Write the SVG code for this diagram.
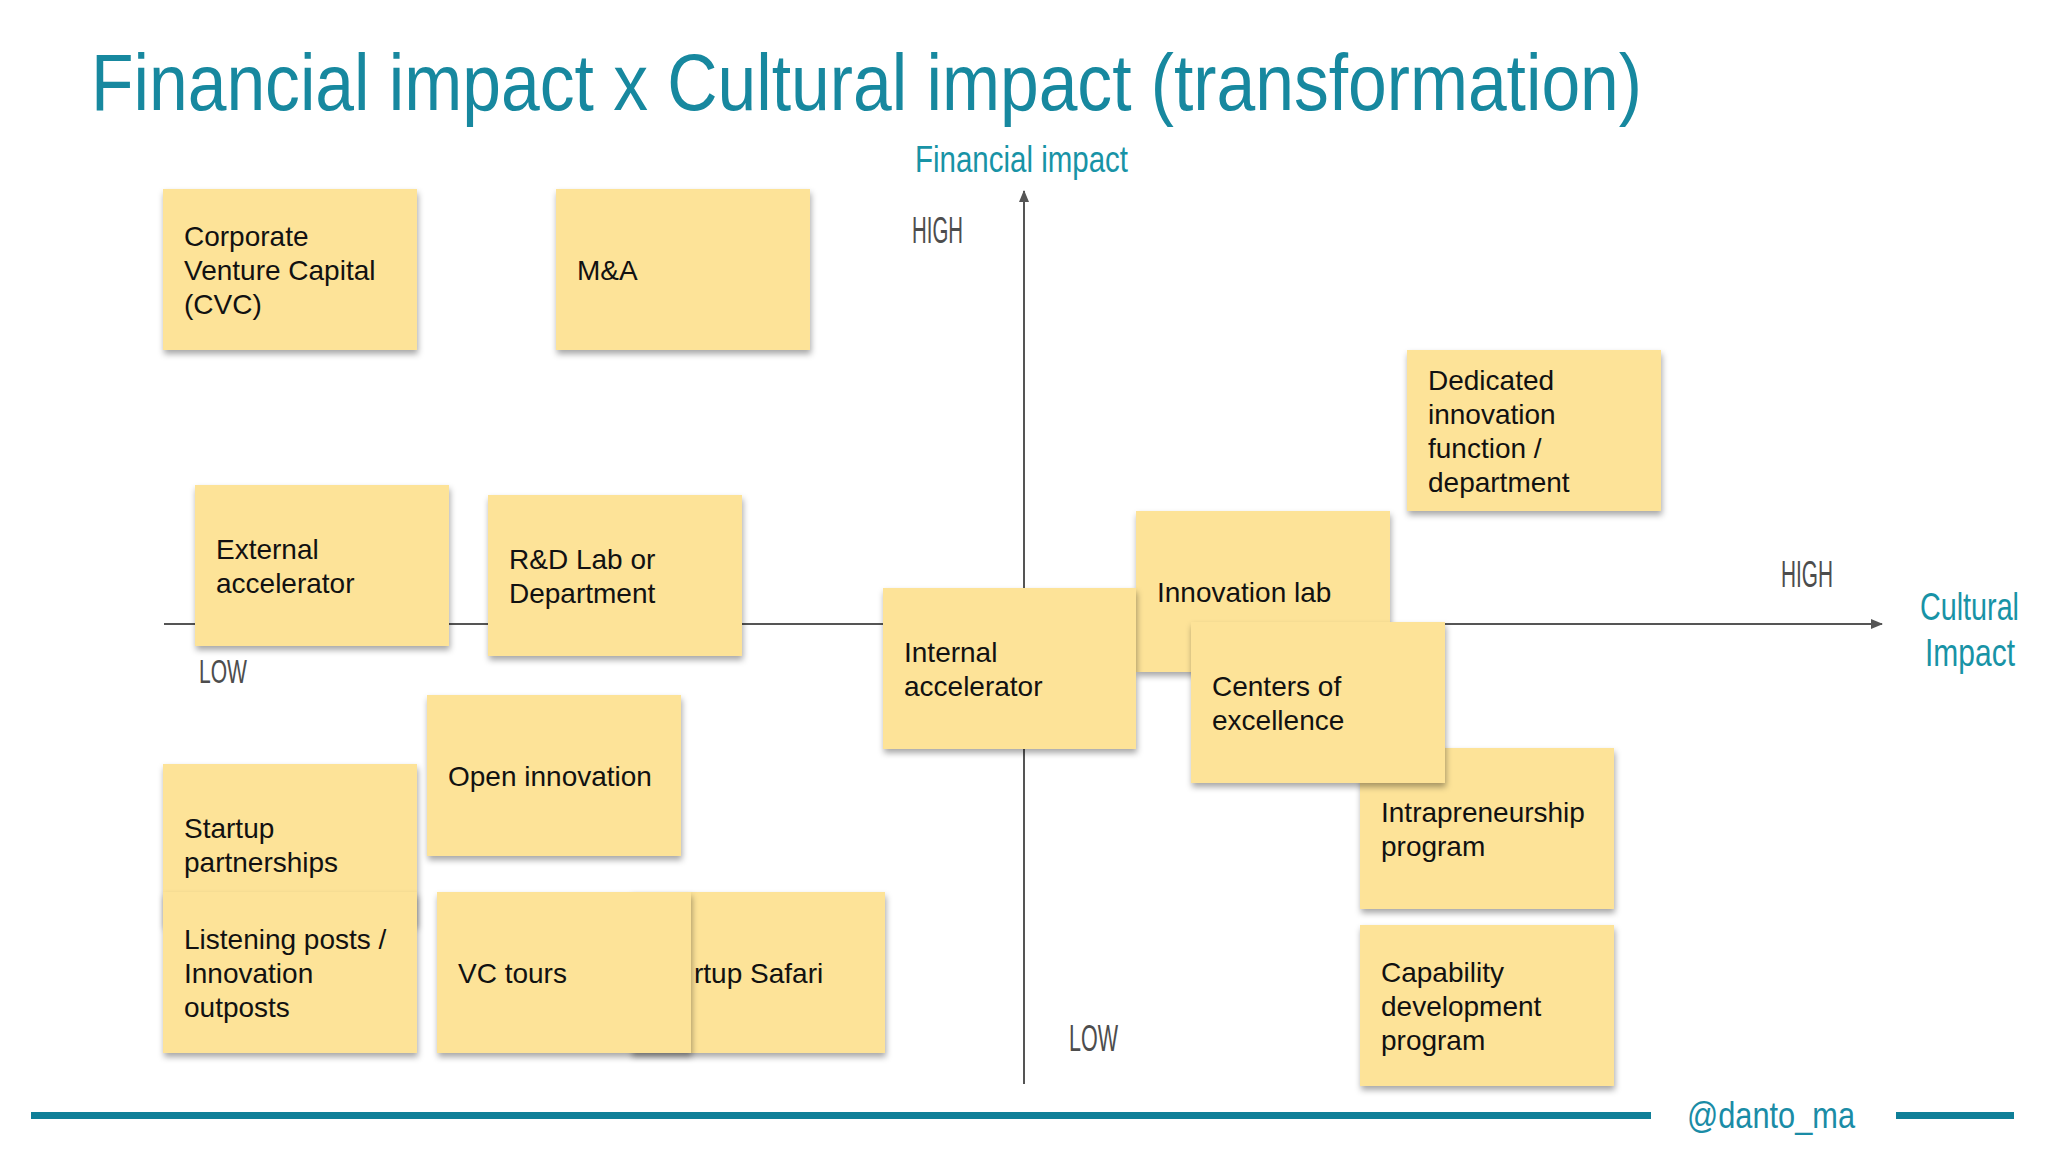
<svg xmlns="http://www.w3.org/2000/svg" width="2048" height="1152" viewBox="0 0 2048 1152">
<defs>
<style>
.note rect{fill:#fde398;}
.note text{font-family:"Liberation Sans",Arial,sans-serif;font-size:28px;fill:#111;}
.hand{font-family:"Liberation Sans",Arial,sans-serif;}
.teal{fill:#1893a6;}
.gray{fill:#4d4d4d;}
.axis{stroke:#555;stroke-width:2;fill:none;}
</style>
<filter id="sh" x="-10%" y="-10%" width="125%" height="130%">
<feDropShadow dx="1" dy="4" stdDeviation="3" flood-color="#000" flood-opacity="0.35"/>
</filter>
<marker id="arr" viewBox="0 0 12 10" refX="11" refY="5" markerWidth="12" markerHeight="10" markerUnits="userSpaceOnUse" orient="auto">
<path d="M0,0 L12,5 L0,10 Z" fill="#555"/>
</marker>
</defs>
<rect width="2048" height="1152" fill="#fff"/>

<text class="hand" x="91" y="110" font-size="80" fill="#17889f" textLength="1551" lengthAdjust="spacingAndGlyphs">Financial impact x Cultural impact (transformation)</text>

<g id="connectors">
<line class="axis" x1="1024" y1="1084" x2="1024" y2="191" marker-end="url(#arr)"/>
<line class="axis" x1="164" y1="624" x2="1882" y2="624" marker-end="url(#arr)"/>
</g>

<g id="axis-labels">
<text class="hand teal" x="915" y="172" font-size="36" textLength="213" lengthAdjust="spacingAndGlyphs">Financial impact</text>
<text class="hand gray" x="912" y="243" font-size="36" textLength="51" lengthAdjust="spacingAndGlyphs">HIGH</text>
<text class="hand gray" x="1781" y="587" font-size="36" textLength="52" lengthAdjust="spacingAndGlyphs">HIGH</text>
<text class="hand teal" x="1920" y="620" font-size="38" textLength="99" lengthAdjust="spacingAndGlyphs">Cultural</text>
<text class="hand teal" x="1925" y="666" font-size="38" textLength="90" lengthAdjust="spacingAndGlyphs">Impact</text>
<text class="hand gray" x="199" y="683" font-size="34" textLength="48" lengthAdjust="spacingAndGlyphs">LOW</text>
<text class="hand gray" x="1069" y="1051" font-size="36" textLength="49" lengthAdjust="spacingAndGlyphs">LOW</text>
</g>

<g id="n-cvc" class="note"><rect x="163" y="189" width="254" height="161" filter="url(#sh)"/>
<text x="184" y="245.5">Corporate</text><text x="184" y="279.5">Venture Capital</text><text x="184" y="313.5">(CVC)</text></g>

<g id="n-ma" class="note"><rect x="556" y="189" width="254" height="161" filter="url(#sh)"/>
<text x="577" y="279.5">M&amp;A</text></g>

<g id="n-dedicated" class="note"><rect x="1407" y="350" width="254" height="161" filter="url(#sh)"/>
<text x="1428" y="389.5">Dedicated</text><text x="1428" y="423.5">innovation</text><text x="1428" y="457.5">function /</text><text x="1428" y="491.5">department</text></g>

<g id="n-external" class="note"><rect x="195" y="485" width="254" height="161" filter="url(#sh)"/>
<text x="216" y="558.5">External</text><text x="216" y="592.5">accelerator</text></g>

<g id="n-rnd" class="note"><rect x="488" y="495" width="254" height="161" filter="url(#sh)"/>
<text x="509" y="568.5">R&amp;D Lab or</text><text x="509" y="602.5">Department</text></g>

<g id="n-innovation-lab" class="note"><rect x="1136" y="511" width="254" height="161" filter="url(#sh)"/>
<text x="1157" y="601.5">Innovation lab</text></g>

<g id="n-internal" class="note"><rect x="883" y="588" width="253" height="161" filter="url(#sh)"/>
<text x="904" y="661.5">Internal</text><text x="904" y="695.5">accelerator</text></g>

<g id="n-intrapreneurship" class="note"><rect x="1360" y="748" width="254" height="161" filter="url(#sh)"/>
<text x="1381" y="821.5">Intrapreneurship</text><text x="1381" y="855.5">program</text></g>

<g id="n-centers" class="note"><rect x="1191" y="622" width="254" height="161" filter="url(#sh)"/>
<text x="1212" y="695.5">Centers of</text><text x="1212" y="729.5">excellence</text></g>

<g id="n-open" class="note"><rect x="427" y="695" width="254" height="161" filter="url(#sh)"/>
<text x="448" y="785.5">Open innovation</text></g>

<g id="n-startup-partnerships" class="note"><rect x="163" y="764" width="254" height="161" filter="url(#sh)"/>
<text x="184" y="837.5">Startup</text><text x="184" y="871.5">partnerships</text></g>

<g id="n-listening" class="note"><rect x="163" y="892" width="254" height="161" filter="url(#sh)"/>
<text x="184" y="948.5">Listening posts /</text><text x="184" y="982.5">Innovation</text><text x="184" y="1016.5">outposts</text></g>

<g id="n-capability" class="note"><rect x="1360" y="925" width="254" height="161" filter="url(#sh)"/>
<text x="1381" y="981.5">Capability</text><text x="1381" y="1015.5">development</text><text x="1381" y="1049.5">program</text></g>

<g id="n-safari" class="note"><rect x="631" y="892" width="254" height="161" filter="url(#sh)"/>
<text x="694" y="982.5">rtup Safari</text></g>

<g id="n-vc-tours" class="note"><rect x="437" y="892" width="254" height="161" filter="url(#sh)"/>
<text x="458" y="982.5">VC tours</text></g>

<g id="footer">
<rect x="31" y="1112" width="1620" height="7" fill="#0f7f98"/>
<rect x="1896" y="1112" width="118" height="7" fill="#0f7f98"/>
<text class="hand" x="1687" y="1128" font-size="36" fill="#1a8ca6" textLength="168" lengthAdjust="spacingAndGlyphs">@danto_ma</text>
</g>
</svg>
